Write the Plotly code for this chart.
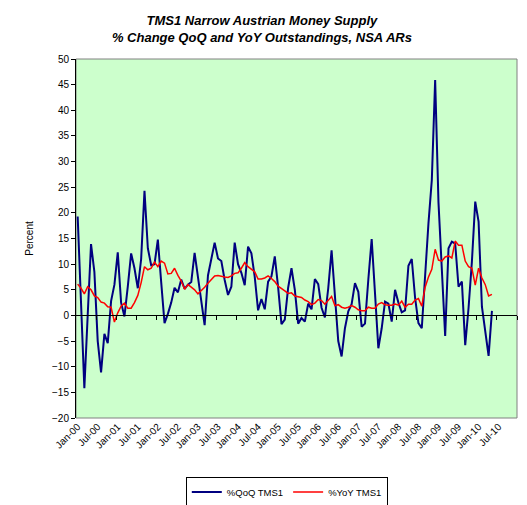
import plotly.graph_objects as go

# ---- data ----
month_names = ["Jan", "Feb", "Mar", "Apr", "May", "Jun",
               "Jul", "Aug", "Sep", "Oct", "Nov", "Dec"]
years = list(range(2000, 2011))
months = [f"{m}-{str(y)[2:]}" for y in years for m in month_names]  # Jan-00 .. Dec-10 (132 categories)

tick_labels = ["Jan-00", "Jul-00", "Jan-01", "Jul-01", "Jan-02", "Jul-02", "Jan-03", "Jul-03",
               "Jan-04", "Jul-04", "Jan-05", "Jul-05", "Jan-06", "Jul-06", "Jan-07", "Jul-07",
               "Jan-08", "Jul-08", "Jan-09", "Jul-09", "Jan-10", "Jul-10"]

qoq_tms1 = [19.3, 3.0, -14.2, 0.0, 13.9, 8.5, -5.0, -11.1, -3.6, -5.4,
            2.8, 6.0, 12.3, 2.5, -0.2, 5.6, 12.1, 9.2, 5.3, 11.0,
            24.3, 13.1, 9.8, 10.0, 14.8, 6.5, -1.5, 0.3, 2.5, 5.4,
            4.5, 7.0, 5.2, 6.0, 6.5, 12.2, 7.2, 2.4, -1.9, 7.8,
            11.1, 14.2, 11.1, 10.6, 6.9, 4.0, 5.6, 14.2, 10.0, 8.3,
            5.9, 13.4, 12.1, 7.5, 1.0, 3.2, 1.2, 6.6, 7.6, 11.5,
            5.5, -1.7, -0.8, 5.4, 9.2, 5.0, -1.6, -0.5, -1.2, 2.3,
            1.2, 7.1, 6.1, 1.5, -0.4, 5.3, 12.7, 3.0, -5.0, -8.0,
            -2.5, 0.8, 2.2, 6.3, 4.6, -2.2, -1.6, 7.0, 14.9, 4.3,
            -6.4, -2.5, 2.7, 2.3, -1.2, 5.0, 2.5, 0.6, 1.0, 9.7,
            11.0, 3.4, -1.5, -2.5, 8.5, 18.0, 26.4, 45.9, 22.0, 9.5,
            -4.0, 13.1, 14.4, 14.0, 5.6, 6.6, -5.8, 1.5, 10.5, 22.2,
            18.3, 1.7, -2.8, -7.9, 0.9]

yoy_tms1 = [6.1, 5.3, 4.2, 5.6, 5.0, 3.8, 3.5, 2.6, 2.4, 1.7,
            1.6, -1.3, 0.5, 1.8, 2.4, 1.4, 1.4, 2.5, 3.9, 6.4,
            9.5, 8.9, 9.2, 10.4, 9.5, 10.6, 10.2, 8.1, 8.2, 9.2,
            7.8, 6.7, 5.1, 6.0, 5.5, 5.0, 4.2, 4.8, 5.5, 6.3,
            7.1, 7.7, 7.8, 7.6, 7.5, 7.4, 7.7, 8.2, 8.3, 9.2,
            10.3, 9.5, 9.0, 8.5, 7.1, 7.1, 7.3, 7.7, 7.2, 6.6,
            5.7, 5.3, 4.8, 4.3, 4.4, 3.8, 3.6, 3.5, 3.0, 2.7,
            2.1, 2.4, 3.1, 2.9, 2.2, 2.9, 3.7, 1.9, 2.1, 1.6,
            1.4, 1.6, 1.9, 1.6, 1.1, 0.9, 0.9, 1.6, 1.4, 1.4,
            2.2, 2.5, 2.1, 2.0, 2.0, 2.2, 2.0, 2.8, 1.6, 2.2,
            2.2, 3.0, 3.3, 1.8, 5.5, 7.5, 9.0, 12.9, 10.8, 10.6,
            11.4, 11.6, 11.2, 14.5, 13.7, 13.7, 10.6, 9.5, 9.2, 5.9,
            9.2, 7.3, 6.0, 3.8, 4.1]

y_min, y_max = -20, 50

# ---- figure ----
font_family = "Liberation Sans, Arial, sans-serif"
n_cat = len(months)
x_idx = list(range(n_cat))
tick_pos = [months.index(t) for t in tick_labels]
boundary_ticks = [p - 0.5 for p in range(6, n_cat + 1, 6)]

fig = go.Figure()
fig.add_trace(go.Scatter(
    x=x_idx[:len(qoq_tms1)], y=qoq_tms1, mode="lines", name="%QoQ TMS1",
    line=dict(color="#000080", width=2), xaxis="x", yaxis="y"))
fig.add_trace(go.Scatter(
    x=x_idx[:len(yoy_tms1)], y=yoy_tms1, mode="lines", name="%YoY TMS1",
    line=dict(color="#FF0000", width=1.5), xaxis="x2", yaxis="y"))

x_range = [-0.5, n_cat - 0.5]
zero_pos = (0 - y_min) / (y_max - y_min)

fig.update_layout(
    width=527, height=505,
    margin=dict(l=76, r=10, t=59, b=87, autoexpand=False),
    paper_bgcolor="white",
    plot_bgcolor="#CCFFCC",
    font=dict(family=font_family, size=10, color="black"),
    title=dict(
        text="<b><i>TMS1 Narrow Austrian Money Supply<br>% Change QoQ and YoY Outstandings, NSA ARs</i></b>",
        x=0.497, xref="container", xanchor="center",
        y=0.951, yref="container", yanchor="top",
        font=dict(family=font_family, size=13, color="black")),
    xaxis=dict(
        range=x_range, tickmode="array", tickvals=tick_pos, ticktext=tick_labels,
        tickangle=-45, ticks="", showline=False, showgrid=False, zeroline=False,
        tickfont=dict(size=10), fixedrange=True),
    xaxis2=dict(
        overlaying="x", matches="x", anchor="free", position=zero_pos, side="bottom",
        range=x_range, tickmode="array", tickvals=boundary_ticks, showticklabels=False,
        ticks="outside", ticklen=4, tickcolor="black", showline=True, linecolor="black",
        linewidth=1, showgrid=False, zeroline=False),
    yaxis=dict(
        range=[y_min, y_max], dtick=5, tick0=0, ticks="outside", ticklen=4,
        tickcolor="black", showline=True, linecolor="black", linewidth=1,
        showgrid=False, zeroline=False, tickfont=dict(size=10),
        title=dict(text="Percent", font=dict(size=10), standoff=16)),
    legend=dict(
        orientation="h", x=0.478, xanchor="center", y=-0.163, yanchor="top",
        bordercolor="black", borderwidth=1, bgcolor="white",
        font=dict(size=9.5), itemwidth=30, tracegroupgap=0),
    showlegend=True,
    shapes=[dict(type="rect", xref="paper", yref="paper", x0=0, x1=1, y0=0, y1=1,
                 line=dict(color="#808080", width=1), layer="below")],
)

fig.write_html("out.html", config={"displayModeBar": False},
               post_script="document.body.style.margin='0';document.body.style.overflow='hidden';")
